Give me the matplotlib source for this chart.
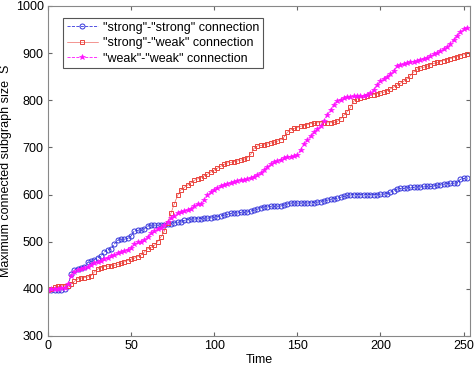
import numpy as np
import matplotlib
matplotlib.use("Agg")
import matplotlib.pyplot as plt

# values, one every 2 time steps (t = 0, 2, ..., 252)
strong_strong = [398, 398, 398, 398, 398, 399, 405, 432, 440, 443, 445, 447, 456, 458, 462, 466,
                 470, 478, 483, 485, 495, 503, 505, 505, 507, 512, 523, 524, 524, 527, 533, 535,
                 535, 535, 535, 536, 537, 538, 540, 541, 542, 545, 547, 548, 548, 549, 549, 550,
                 550, 551, 552, 553, 555, 556, 558, 560, 561, 561, 562, 562, 563, 565, 567, 569,
                 572, 574, 574, 575, 575, 575, 576, 578, 580, 582, 582, 582, 582, 582, 582, 583,
                 583, 584, 585, 587, 588, 590, 591, 592, 594, 596, 598, 600, 600, 600, 600, 600,
                 600, 600, 600, 600, 601, 601, 602, 605, 608, 612, 613, 613, 614, 615, 615, 616,
                 616, 617, 617, 617, 618, 620, 621, 622, 623, 624, 624, 624, 632, 634, 634]

strong_weak = [398, 400, 403, 405, 406, 407, 405, 410, 416, 421, 423, 424, 425, 428, 436, 442,
               445, 447, 448, 449, 450, 452, 454, 457, 460, 463, 465, 468, 472, 478, 485, 488,
               492, 500, 510, 522, 540, 560, 580, 598, 610, 615, 620, 625, 630, 633, 636, 640,
               643, 648, 652, 656, 660, 664, 667, 668, 670, 671, 673, 675, 678, 685, 698, 703,
               704, 705, 707, 709, 711, 713, 716, 722, 732, 737, 740, 742, 745, 746, 748, 750,
               751, 752, 752, 752, 752, 752, 753, 755, 760, 768, 776, 785, 798, 803, 805, 806,
               808, 810, 812, 814, 815, 817, 820, 824, 828, 832, 836, 840, 846, 852, 860, 866,
               868, 870, 872, 875, 878, 880, 882, 884, 886, 888, 890, 892, 894, 896, 898]

weak_weak = [398, 399, 400, 400, 401, 402, 410, 428, 436, 440, 442, 444, 446, 450, 454, 457,
             460, 463, 466, 469, 472, 475, 478, 481, 483, 487, 495, 499, 500, 503, 510, 518,
             522, 526, 530, 535, 542, 550, 555, 560, 563, 565, 567, 570, 575, 579, 580, 588,
             598, 605, 610, 614, 618, 621, 623, 625, 627, 629, 630, 631, 632, 635, 638, 642,
             646, 652, 658, 664, 668, 671, 674, 677, 679, 680, 681, 683, 695, 708, 716, 724,
             732, 738, 745, 755, 768, 780, 790, 798, 801, 804, 806, 807, 808, 808, 808, 809,
             810, 815, 822, 832, 840, 846, 850, 855, 862, 872, 874, 876, 878, 880, 882, 884,
             886, 888, 890, 893, 897, 900, 904, 908, 912, 920, 928, 937, 945, 950, 954]

labels = ['"strong"-"strong" connection', '"strong"-"weak" connection', '"weak"-"weak" connection']

plt.rcParams['font.family'] = ['Liberation Sans', 'DejaVu Sans']

fig = plt.figure(figsize=(4.74, 3.68), dpi=100)
ax = fig.add_axes([0.101, 0.087, 0.891, 0.897])

t1 = 2 * np.arange(len(strong_strong))
t2 = 2 * np.arange(len(strong_weak))
t3 = 2 * np.arange(len(weak_weak))

ax.plot(t1, strong_strong, '--o', color='#3535dc', linewidth=0.6, markersize=3.6,
        markerfacecolor='none', markeredgewidth=0.7, label=labels[0])
ax.plot(t2, strong_weak, '-s', color='#ea453e', linewidth=0.4, markersize=3.4,
        markerfacecolor='none', markeredgewidth=0.7, label=labels[1])
ax.plot(t3, weak_weak, '--*', color='#ff10ff', linewidth=0.6, markersize=3.8,
        markeredgewidth=0.4, label=labels[2])

ax.set_xlim(0, 254)
ax.set_ylim(300, 1000)
ax.set_xticks([0, 50, 100, 150, 200, 250])
ax.set_yticks(range(300, 1001, 100))
ax.tick_params(direction='in', top=True, right=True, labelsize=9, length=3, pad=3,
               color='#666666')
for s in ax.spines.values():
    s.set_color('#888888')

ax.set_xlabel('Time', fontsize=9, labelpad=1)
ax.set_ylabel('Maximum connected subgraph size  S', fontsize=9, labelpad=3)

leg = ax.legend(loc='upper left', bbox_to_anchor=(0.036, 0.964), borderaxespad=0,
                fontsize=9, fancybox=False, edgecolor='#555555', framealpha=1,
                handlelength=2.5, borderpad=0.3, labelspacing=0.28, handletextpad=0.4)
leg.get_frame().set_linewidth(0.8)

fig.savefig('out.png', dpi=100)
